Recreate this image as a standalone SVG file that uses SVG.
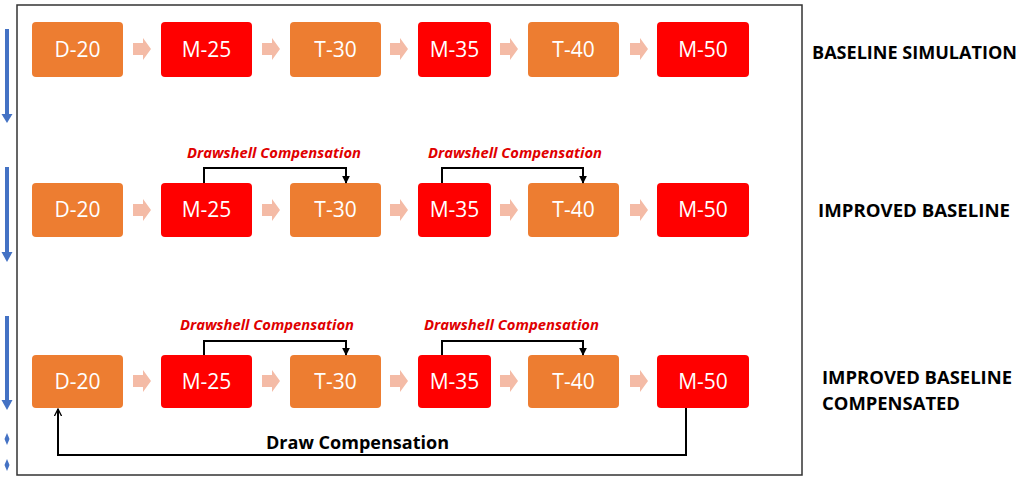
<svg xmlns="http://www.w3.org/2000/svg" width="1024" height="481" viewBox="0 0 1024 481">
<defs>
<style>
.o{fill:#ED7D31}
.r{fill:#FF0000}
.bt{font-family:"Open Sans","Liberation Sans",sans-serif;font-size:21px;fill:#fff;text-anchor:middle}
.lab{font-family:"Open Sans","Liberation Sans",sans-serif;font-weight:700;font-size:18px;fill:#000}
.ds{font-family:"Open Sans","Liberation Sans",sans-serif;font-weight:700;font-style:italic;font-size:14px;fill:#E00000}
.ln{fill:none;stroke:#000;stroke-width:2}
.blk{fill:#F4BBA6}
.blue{fill:#4472C4}
</style>
<marker id="ah" viewBox="0 0 10 10" refX="9" refY="5" markerWidth="4" markerHeight="4" orient="auto" markerUnits="strokeWidth">
<path d="M0,0 L10,5 L0,10 z" fill="#000"/>
</marker>
<marker id="oa" viewBox="0 0 10 10" refX="9" refY="5" markerWidth="8" markerHeight="8" orient="auto" markerUnits="userSpaceOnUse">
<path d="M0,0.5 L9,5 L0,9.5" fill="none" stroke="#000" stroke-width="1.6"/>
</marker>
<path id="blk" d="M0,5 H10 V0 L18,11 L10,22 V17 H0 Z"/>
</defs>
<rect width="1024" height="481" fill="#fff"/>
<rect x="17" y="5" width="785" height="470" fill="#fff" stroke="#333" stroke-width="1.5"/>

<!-- blue side arrows -->
<g id="side">
<rect class="blue" x="5" y="29" width="4" height="86"/>
<path class="blue" d="M1.5,114 H12.5 L7,123 Z"/>
<rect class="blue" x="5" y="167" width="4" height="86"/>
<path class="blue" d="M1.5,252 H12.5 L7,262 Z"/>
<rect class="blue" x="5" y="316" width="4" height="85"/>
<path class="blue" d="M1.5,400 H12.5 L7,410 Z"/>
<path class="blue" d="M7,433 L9.5,439 L7,445 L4.5,439 Z"/>
<path class="blue" d="M7,459 L9.5,465 L7,471 L4.5,465 Z"/>
</g>

<!-- block arrows -->
<g id="blockarrows" class="blk">
<use href="#blk" x="133" y="38"/>
<use href="#blk" x="262" y="38"/>
<use href="#blk" x="390" y="38"/>
<use href="#blk" x="500" y="38"/>
<use href="#blk" x="630" y="38"/>
<use href="#blk" x="133" y="199"/>
<use href="#blk" x="262" y="199"/>
<use href="#blk" x="390" y="199"/>
<use href="#blk" x="500" y="199"/>
<use href="#blk" x="630" y="199"/>
<use href="#blk" x="133" y="370"/>
<use href="#blk" x="262" y="370"/>
<use href="#blk" x="390" y="370"/>
<use href="#blk" x="500" y="370"/>
<use href="#blk" x="630" y="370"/>
</g>

<!-- row 1 -->
<g id="r1-d20"><rect class="o" x="32" y="22" width="91" height="55" rx="4"/><text class="bt" x="77.5" y="57">D-20</text></g>
<g id="r1-m25"><rect class="r" x="161" y="22" width="91" height="55" rx="4"/><text class="bt" x="206.5" y="57">M-25</text></g>
<g id="r1-t30"><rect class="o" x="290" y="22" width="91" height="55" rx="4"/><text class="bt" x="335.5" y="57">T-30</text></g>
<g id="r1-m35"><rect class="r" x="418" y="22" width="73" height="55" rx="4"/><text class="bt" x="454.5" y="57">M-35</text></g>
<g id="r1-t40"><rect class="o" x="528" y="22" width="91" height="55" rx="4"/><text class="bt" x="573.5" y="57">T-40</text></g>
<g id="r1-m50"><rect class="r" x="657" y="22" width="92" height="55" rx="4"/><text class="bt" x="703" y="57">M-50</text></g>

<!-- row 2 -->
<g id="r2-d20"><rect class="o" x="32" y="183" width="91" height="54" rx="4"/><text class="bt" x="77.5" y="217">D-20</text></g>
<g id="r2-m25"><rect class="r" x="161" y="183" width="91" height="54" rx="4"/><text class="bt" x="206.5" y="217">M-25</text></g>
<g id="r2-t30"><rect class="o" x="290" y="183" width="91" height="54" rx="4"/><text class="bt" x="335.5" y="217">T-30</text></g>
<g id="r2-m35"><rect class="r" x="418" y="183" width="73" height="54" rx="4"/><text class="bt" x="454.5" y="217">M-35</text></g>
<g id="r2-t40"><rect class="o" x="528" y="183" width="91" height="54" rx="4"/><text class="bt" x="573.5" y="217">T-40</text></g>
<g id="r2-m50"><rect class="r" x="657" y="183" width="92" height="54" rx="4"/><text class="bt" x="703" y="217">M-50</text></g>

<!-- row 3 -->
<g id="r3-d20"><rect class="o" x="32" y="355" width="91" height="53" rx="4"/><text class="bt" x="77.5" y="389">D-20</text></g>
<g id="r3-m25"><rect class="r" x="161" y="355" width="91" height="53" rx="4"/><text class="bt" x="206.5" y="389">M-25</text></g>
<g id="r3-t30"><rect class="o" x="290" y="355" width="91" height="53" rx="4"/><text class="bt" x="335.5" y="389">T-30</text></g>
<g id="r3-m35"><rect class="r" x="418" y="355" width="73" height="53" rx="4"/><text class="bt" x="454.5" y="389">M-35</text></g>
<g id="r3-t40"><rect class="o" x="528" y="355" width="91" height="53" rx="4"/><text class="bt" x="573.5" y="389">T-40</text></g>
<g id="r3-m50"><rect class="r" x="657" y="355" width="92" height="53" rx="4"/><text class="bt" x="703" y="389">M-50</text></g>

<!-- connectors -->
<g id="connectors">
<path class="ln" d="M204,183 V168 H346 V183" marker-end="url(#ah)"/>
<path class="ln" d="M442,183 V168 H583 V183" stroke-width="1.3" marker-end="url(#ah)"/>
<path class="ln" d="M204,355 V341 H346 V355" marker-end="url(#ah)"/>
<path class="ln" d="M442,355 V341 H583 V355" marker-end="url(#ah)"/>
<path class="ln" d="M686,408 V455 H58 V409" stroke-width="1.5" marker-end="url(#oa)"/>
</g>

<!-- labels -->
<g id="labels">
<text class="ds" x="187" y="158" textLength="174" lengthAdjust="spacingAndGlyphs">Drawshell Compensation</text>
<text class="ds" x="428" y="158" textLength="174" lengthAdjust="spacingAndGlyphs">Drawshell Compensation</text>
<text class="ds" x="180" y="330" textLength="174" lengthAdjust="spacingAndGlyphs">Drawshell Compensation</text>
<text class="ds" x="424" y="330" textLength="175" lengthAdjust="spacingAndGlyphs">Drawshell Compensation</text>
<text class="lab" x="266" y="449" font-size="19" textLength="183" lengthAdjust="spacingAndGlyphs">Draw Compensation</text>
<text class="lab" x="812" y="59" textLength="205" lengthAdjust="spacingAndGlyphs">BASELINE SIMULATION</text>
<text class="lab" x="818" y="217" textLength="192" lengthAdjust="spacingAndGlyphs">IMPROVED BASELINE</text>
<text class="lab" x="822" y="384" textLength="190" lengthAdjust="spacingAndGlyphs">IMPROVED BASELINE</text>
<text class="lab" x="822" y="410" textLength="138" lengthAdjust="spacingAndGlyphs">COMPENSATED</text>
</g>
</svg>
